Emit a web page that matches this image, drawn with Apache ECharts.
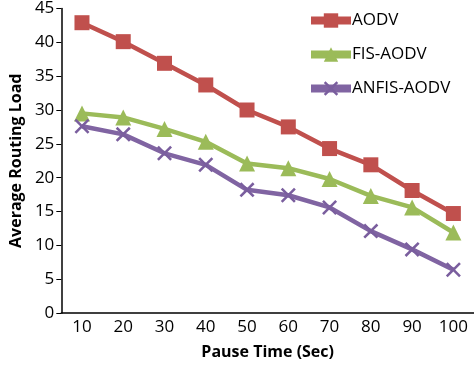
<!DOCTYPE html>
<html><head><meta charset="utf-8">
<script src="https://cdn.jsdelivr.net/npm/echarts@6/dist/echarts.min.js"></script>
<style>html,body{margin:0;padding:0;background:#fff}#c{width:474px;height:365px}</style>
</head><body><div id="c"></div>
<script>
const categories = ['10','20','30','40','50','60','70','80','90','100'];
const aodv = [42.9, 40.1, 36.9, 33.7, 30.0, 27.5, 24.3, 21.9, 18.1, 14.7];
const fisAodv = [29.5, 28.9, 27.2, 25.3, 22.1, 21.4, 19.8, 17.3, 15.6, 11.9];
const anfisAodv = [27.6, 26.4, 23.6, 21.9, 18.2, 17.4, 15.6, 12.1, 9.4, 6.4];
const yTicks = {min: 0, max: 45, interval: 5};

const xShape = 'path://M0,1.2L1.2,0L5,3.8L8.8,0L10,1.2L6.2,5L10,8.8L8.8,10L5,6.2L1.2,10L0,8.8L3.8,5Z';
const font = '"Open Sans", "Liberation Sans", sans-serif';
const chart = echarts.init(document.getElementById('c'));
chart.setOption({
  animation: false,
  backgroundColor: '#fff',
  grid: {left: 59, right: 0, top: 8, bottom: 51},
  legend: {
    orient: 'vertical', left: 302, top: 7, itemWidth: 40, itemHeight: 18, itemGap: 17,
    lineStyle: {width: 8},
    textStyle: {fontSize: 17, color: '#000', fontFamily: font, padding: [0,0,0,-4]},
    data: ['AODV','FIS-AODV','ANFIS-AODV']
  },
  xAxis: {
    type: 'category', data: categories, boundaryGap: true,
    name: 'Pause Time (Sec)', nameLocation: 'middle', nameGap: 31,
    nameTextStyle: {fontSize: 16, fontWeight: 'bold', color: '#000', fontFamily: font},
    axisLine: {lineStyle: {color: '#000', width: 1.5}},
    axisTick: {show: false},
    axisLabel: {fontSize: 17, color: '#000', margin: 6, fontFamily: font}
  },
  yAxis: {
    type: 'value', min: yTicks.min, max: yTicks.max, interval: yTicks.interval,
    name: 'Average Routing Load', nameLocation: 'middle', nameGap: 37,
    nameTextStyle: {fontSize: 16, fontWeight: 'bold', color: '#000', fontFamily: font},
    axisLine: {show: true, lineStyle: {color: '#000', width: 1.5}},
    axisTick: {show: true, length: 5, lineStyle: {color: '#000'}},
    splitLine: {show: false},
    axisLabel: {fontSize: 17, color: '#000', margin: 7, fontFamily: font}
  },
  series: [
    {name: 'AODV', type: 'line', data: aodv, symbol: 'rect', symbolSize: 15,
     lineStyle: {color: '#C0504D', width: 4.5}, itemStyle: {color: '#C0504D'}},
    {name: 'FIS-AODV', type: 'line', data: fisAodv, symbol: 'triangle', symbolSize: 16,
     lineStyle: {color: '#9BBB59', width: 4.5}, itemStyle: {color: '#9BBB59'}},
    {name: 'ANFIS-AODV', type: 'line', data: anfisAodv, symbol: xShape, symbolSize: 15,
     lineStyle: {color: '#8064A2', width: 4.5}, itemStyle: {color: '#7A5E9E'}}
  ]
});
</script></body></html>
